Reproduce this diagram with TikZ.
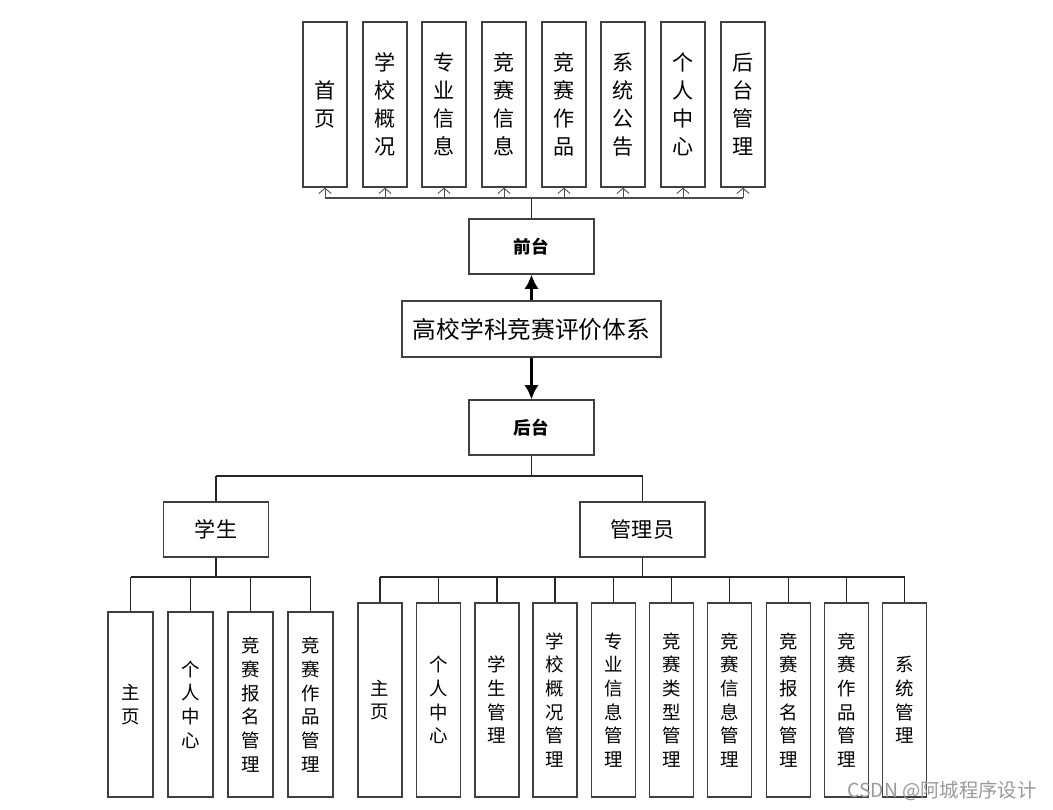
\documentclass[tikz,border=0pt]{standalone}
\usepackage{fontspec}
\newfontfamily\cjk{Noto Sans CJK SC}
\usetikzlibrary{arrows.meta}

\begin{document}
\begin{tikzpicture}[x=0.02cm, y=-0.02cm, font=\cjk,
	box/.style={draw=black!75, line width=0.8pt, fill=white, inner sep=0pt, align=center},
	topbox/.style={box, minimum width=0.88cm, minimum height=3.3cm, font=\cjk\fontsize{12}{16}\selectfont},
	midbox/.style={box, minimum width=2.5cm, minimum height=1.1cm, font=\cjk\bfseries\fontsize{10}{12}\selectfont},
	rolebox/.style={box, minimum height=1.1cm, font=\cjk\fontsize{12}{14}\selectfont},
	stubox/.style={box, minimum width=0.9cm, minimum height=3.7cm, font=\cjk\fontsize{10.5}{13.5}\selectfont},
	admbox/.style={box, minimum width=0.88cm, minimum height=3.88cm, font=\cjk\fontsize{10.5}{13.5}\selectfont},
	link/.style={draw=black!85, line width=0.6pt},
	bigarrow/.style={line width=1.2pt, -{Latex[length=8pt,width=8pt]}},
	smallarrow/.style={draw=black!70, line width=0.5pt, -{Straight Barb[length=3pt,width=7pt]}}]
	\useasboundingbox (0,0) rectangle (1053,810);

	%MIDDLE
	\node[box, minimum width=5.18cm, minimum height=1.12cm, font=\cjk\fontsize{13.5}{16}\selectfont] (sys) at (531.5,329) {高校学科竞赛评价体系};
	\node[midbox] (qt) at (531.5,246.5) {前台};
	\node[midbox] (ht) at (531.5,427.5) {后台};
	\draw[bigarrow] (sys) -- (qt);
	\draw[bigarrow] (sys) -- (ht);

	%UPPER PART
	\node[topbox] (t1) at (325,104.5) {首\\页};
	\node[topbox] (t2) at (385,104.5) {学\\校\\概\\况};
	\node[topbox] (t3) at (444,104.5) {专\\业\\信\\息};
	\node[topbox] (t4) at (504,104.5) {竞\\赛\\信\\息};
	\node[topbox] (t5) at (564,104.5) {竞\\赛\\作\\品};
	\node[topbox] (t6) at (623,104.5) {系\\统\\公\\告};
	\node[topbox] (t7) at (683,104.5) {个\\人\\中\\心};
	\node[topbox] (t8) at (743,104.5) {后\\台\\管\\理};
	\coordinate (tb) at (531.5,198);
	\draw[link] (qt) -- (tb);
	\draw[link, draw=black!70] (t1 |- tb) -- (t8 |- tb);
	\draw[smallarrow] (t1 |- tb) -- (t1);
	\draw[smallarrow] (t2 |- tb) -- (t2);
	\draw[smallarrow] (t3 |- tb) -- (t3);
	\draw[smallarrow] (t4 |- tb) -- (t4);
	\draw[smallarrow] (t5 |- tb) -- (t5);
	\draw[smallarrow] (t6 |- tb) -- (t6);
	\draw[smallarrow] (t7 |- tb) -- (t7);
	\draw[smallarrow] (t8 |- tb) -- (t8);

	%LOWER PART
	\node[rolebox, minimum width=2.1cm] (xs) at (216,529.5) {学生};
	\node[rolebox, minimum width=2.5cm] (gl) at (642.5,529.5) {管理员};
	\coordinate (hb) at (531.5,476);
	\draw[link] (ht) -- (hb);
	\draw[link] (xs |- hb) -- (gl |- hb);
	\draw[link] (xs |- hb) -- (xs);
	\draw[link] (gl |- hb) -- (gl);

	%STUDENT
	\node[stubox] (s1) at (130.5,704.5) {主\\页};
	\node[stubox] (s2) at (190.5,704.5) {个\\人\\中\\心};
	\node[stubox] (s3) at (250.5,704.5) {竞\\赛\\报\\名\\管\\理};
	\node[stubox] (s4) at (310.5,704.5) {竞\\赛\\作\\品\\管\\理};
	\coordinate (sb) at (216,577);
	\draw[link] (xs) -- (sb);
	\draw[link] (s1 |- sb) -- (s4 |- sb);
	\draw[link] (s1 |- sb) -- (s1);
	\draw[link] (s2 |- sb) -- (s2);
	\draw[link] (s3 |- sb) -- (s3);
	\draw[link] (s4 |- sb) -- (s4);

	%ADMIN
	\node[admbox] (a1) at (380,700) {主\\页};
	\node[admbox] (a2) at (438.5,700) {个\\人\\中\\心};
	\node[admbox] (a3) at (497,700) {学\\生\\管\\理};
	\node[admbox] (a4) at (555,700) {学\\校\\概\\况\\管\\理};
	\node[admbox] (a5) at (613.5,700) {专\\业\\信\\息\\管\\理};
	\node[admbox] (a6) at (671.5,700) {竞\\赛\\类\\型\\管\\理};
	\node[admbox] (a7) at (729.5,700) {竞\\赛\\信\\息\\管\\理};
	\node[admbox] (a8) at (788.5,700) {竞\\赛\\报\\名\\管\\理};
	\node[admbox] (a9) at (846.5,700) {竞\\赛\\作\\品\\管\\理};
	\node[admbox] (a10) at (904.5,700) {系\\统\\管\\理};
	\coordinate (ab) at (642.5,577);
	\draw[link] (gl) -- (ab);
	\draw[link] (a1 |- ab) -- (a10 |- ab);
	\draw[link] (a1 |- ab) -- (a1);
	\draw[link] (a2 |- ab) -- (a2);
	\draw[link] (a3 |- ab) -- (a3);
	\draw[link] (a4 |- ab) -- (a4);
	\draw[link] (a5 |- ab) -- (a5);
	\draw[link] (a6 |- ab) -- (a6);
	\draw[link] (a7 |- ab) -- (a7);
	\draw[link] (a8 |- ab) -- (a8);
	\draw[link] (a9 |- ab) -- (a9);
	\draw[link] (a10 |- ab) -- (a10);

	%LABELS
	\node[text=black!40, font=\cjk\fontsize{11}{13}\selectfont] (wm) at (942,791) {CSDN @阿城程序设计};
\end{tikzpicture}
\end{document}
